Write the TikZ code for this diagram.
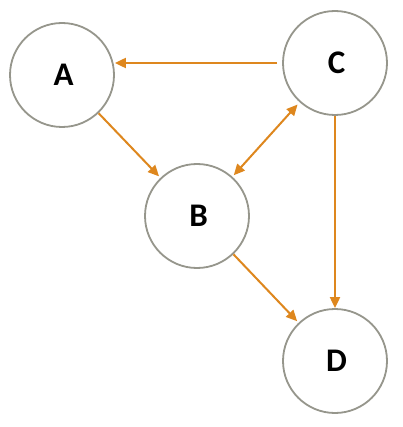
\documentclass[tikz,border=0pt]{standalone}
\usepackage{fontspec}
\setmainfont{Carlito}
\usetikzlibrary{arrows.meta}
\definecolor{ringgray}{RGB}{150,150,140}
\definecolor{arroworange}{RGB}{222,135,30}
\begin{document}
\begin{tikzpicture}[x=1pt,y=-1pt,
  vertex/.style={circle,draw=ringgray,line width=1.8pt,minimum size=104pt,inner sep=0pt,
    font=\fontsize{33}{33}\selectfont\bfseries},
  link/.style={draw=arroworange,line width=2pt,-{Triangle[length=11pt,width=10pt]}},
  blink/.style={draw=arroworange,line width=2pt,{Triangle[length=11pt,width=10pt]}-{Triangle[length=11pt,width=10pt]}}]
\useasboundingbox (0,0) rectangle (402,427);
\fill[white] (0,0) rectangle (402,427);
\node[vertex] (A) at (62,75) {\hspace*{3pt}\raisebox{-4pt}{A}};
\node[vertex] (C) at (335,63) {\hspace*{3pt}\raisebox{-4pt}{C}};
\node[vertex] (B) at (197,216) {\hspace*{3pt}\raisebox{-1pt}{B}};
\node[vertex] (D) at (335,361) {\hspace*{3pt}\raisebox{-1pt}{D}};
\draw[link,shorten <=5pt] (C.west) -- (C.west -| A.east);
\draw[link,shorten >=2pt] (A) -- (B);
\draw[blink,shorten >=3pt,shorten <=2pt] (B) -- (C);
\draw[link] (C) -- (D);
\draw[link,shorten >=2pt] (B) -- (D);
\end{tikzpicture}
\end{document}
